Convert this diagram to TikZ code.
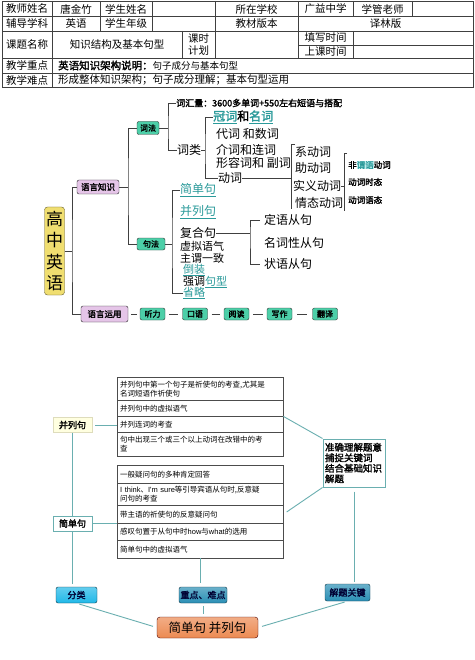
\documentclass[tikz,border=0pt]{standalone}
\usepackage{fontspec}
\setmainfont{Noto Sans CJK SC}[AutoFakeBold=2]
\newfontfamily\latin{Liberation Sans}

\definecolor{linkc}{HTML}{2A9A9A}
\definecolor{hlc}{HTML}{BFEFEF}
\definecolor{conc}{HTML}{6AAFB0}
\definecolor{rootc}{HTML}{F0DE70}
\definecolor{pinkc}{HTML}{E5C5E8}
\definecolor{mintc}{HTML}{4CCFA8}
\definecolor{bluec}{HTML}{20B8E8}
\definecolor{dbluec}{HTML}{2A8FB5}
\definecolor{orangec}{HTML}{EC8A52}
\definecolor{yelc}{HTML}{FFFFE0}

\newcommand{\lnk}[1]{\textcolor{linkc}{\underline{#1}}}
\newcommand{\hlt}[1]{{\fboxsep=0pt\colorbox{hlc}{\textcolor{linkc}{#1}}}}

\tikzset{
  grid/.style={draw=black!75, line width=0.5pt},
  cell/.style={font=\fontsize{10.5}{12}\selectfont},
  mline/.style={draw=black!75, line width=0.6pt},
  conn/.style={draw=conc, line width=0.9pt},
  rootbox/.style={draw=black!60!rootc, fill=rootc, rounded corners=3pt, minimum width=20pt, minimum height=88pt, align=center, font=\fontsize{17}{21.5}\selectfont},
  pinkbox/.style={draw=black!85, fill=pinkc, rounded corners=2pt, minimum height=14pt, font=\fontsize{8.5}{9}\selectfont\bfseries},
  mintbox/.style={draw=black!80, fill=mintc, rounded corners=2pt, minimum width=25pt, minimum height=12pt, font=\fontsize{8}{9}\selectfont\bfseries},
  item/.style={anchor=west, font=\fontsize{12}{12}\selectfont},
  subitem/.style={anchor=west, font=\fontsize{11}{11}\selectfont},
  note/.style={anchor=west, font=\fontsize{8.5}{9}\selectfont\bfseries},
  rowbox/.style={draw=black!70, anchor=north west, text width=160pt, inner xsep=3pt, align=left, font=\fontsize{7.5}{9}\selectfont},
  bluebox/.style={draw=black!70!bluec, top color=bluec!70, bottom color=bluec, rounded corners=2pt, minimum height=16pt, font=\fontsize{9}{9}\selectfont\bfseries, text=black!80!blue},
  dbluebox/.style={bluebox, draw=black!60!dbluec, top color=dbluec!70, bottom color=dbluec},
  bigbox/.style={draw=black!70!red, top color=orangec!70, bottom color=orangec, rounded corners=3pt, minimum width=101pt, minimum height=21pt, font=\fontsize{12.5}{13}\selectfont}
}

\begin{document}
\begin{tikzpicture}[x=1pt, y=-1pt, every node/.style={inner sep=0pt}]
  \path[fill=white] (0,0) rectangle (474,660);
  \useasboundingbox (0,0) rectangle (474,660);

  % header table
  \draw[grid] (2,1) rectangle (473,87);
  \draw[grid] (2,16) -- (473,16) (2,31) -- (473,31) (2,58) -- (473,58) (2,73) -- (473,73) (298,45) -- (473,45);
  \draw[grid] (52,1) -- (52,87) (100,1) -- (100,31) (152,1) -- (152,31) (182,31) -- (182,58)
    (215,1) -- (215,58) (298,1) -- (298,58) (353,1) -- (353,16) (353,31) -- (353,58) (412,1) -- (412,16);

  \node[cell] (jsxm) at (27,9) {教师姓名};
  \node[cell] (tjz) at (76,9) {唐金竹};
  \node[cell] (xsxm) at (126,9) {学生姓名};
  \node[cell] (szxx) at (256.5,9) {所在学校};
  \node[cell] (gyzx) at (325.5,9) {广益中学};
  \node[cell] (xgls) at (382.5,9) {学管老师};
  \node[cell] (fdxk) at (27,23.5) {辅导学科};
  \node[cell] (yy) at (76,23.5) {英语};
  \node[cell] (xsnj) at (126,23.5) {学生年级};
  \node[cell] (jcbb) at (256.5,23.5) {教材版本};
  \node[cell] (ylb) at (385.5,23.5) {译林版};
  \node[cell] (ktmc) at (27,44.5) {课题名称};
  \node[cell] (zsjg) at (117,44.5) {知识结构及基本句型};
  \node[cell, align=center] (ksjh) at (198.5,44.5) {课时\\计划};
  \node[cell] (txsj) at (325.5,38) {填写时间};
  \node[cell] (sksj) at (325.5,51.5) {上课时间};
  \node[cell] (jxzd) at (27,65.5) {教学重点};
  \node[cell, anchor=west] (zdnr) at (58,65.5) {\textbf{英语知识架构说明：}{\fontsize{9.5}{10}\selectfont 句子成分与基本句型}};
  \node[cell] (jxnd) at (27,80) {教学难点};
  \node[cell, anchor=west] (ndnr) at (58,80) {形成整体知识架构；句子成分理解；基本句型运用};

  % mind map
  \node[rootbox] (gzyy) at (54.5,251) {高\\中\\英\\语};
  \node[pinkbox, minimum width=42pt] (yyzs) at (98,187) {语言知识};
  \node[pinkbox, minimum width=47pt, minimum height=16pt] (yyyy) at (104.5,314) {语言运用};
  \coordinate (b0) at (72,251);
  \draw[mline] (gzyy) -- (b0);
  \draw[mline] (yyzs.west) -| (b0) |- (yyyy.west);

  \node[mintbox, minimum width=22pt, minimum height=13pt] (cifa) at (148,128) {词法};
  \node[mintbox, minimum width=28pt] (jufa) at (151,244) {句法};
  \coordinate (b1) at (128,187);
  \draw[mline] (yyzs) -- (b1);
  \draw[mline] (cifa.west) -| (b1) |- (jufa.west);

  \node[note, font=\fontsize{9}{9}\selectfont\bfseries] (cihui) at (176,103) {词汇量：3600多单词+550左右短语与搭配};
  \node[item] (cilei) at (177,150) {词类};
  \coordinate (b2) at (168,128);
  \draw[mline] (cifa) -- (b2);
  \draw[mline] (cihui.west) -| (b2) |- (cilei.west);

  \node[item, font=\fontsize{12}{12}\selectfont\bfseries] (gm) at (213,117) {\lnk{冠词}和\lnk{名词}};
  \node[item] (ds) at (216,134) {代词 和数词};
  \node[item] (jl) at (216,150) {介词和连词};
  \node[item] (xf) at (216,163) {形容词和 副词};
  \node[item] (dc) at (218,178) {动词};
  \coordinate (b3) at (205,150);
  \draw[mline] (cilei) -- (b3);
  \draw[mline] (gm.west) -| (b3) |- (dc.west);

  \node[item] (xdc) at (295,152) {系动词};
  \node[item] (zdc) at (295,168) {助动词};
  \node[item] (sy) at (293,186) {实义动词};
  \node[item] (qt) at (295,203) {情态动词};
  \coordinate (b4) at (291,178);
  \coordinate (b4t) at (291,144);
  \coordinate (b4b) at (291,209);
  \draw[mline] (dc) -- (b4);
  \draw[mline] ([xshift=4pt]b4t) -- (b4t) -- (b4b);

  \node[note] (fwy) at (348,165) {非\hlt{谓语}动词};
  \node[note] (dcst) at (348,182) {动词时态};
  \node[note] (dcyt) at (348,200) {动词语态};
  \coordinate (b5) at (344,186);
  \coordinate (b5t) at (344,153);
  \coordinate (b5b) at (344,211);
  \draw[mline] (sy) -- (b5);
  \draw[mline] ([xshift=3pt]b5t) -- (b5t) -- (b5b);

  \node[item] (jdj) at (180,190) {\lnk{简单句}};
  \node[item] (blj) at (180,212) {\lnk{并列句}};
  \node[item] (fhj) at (180,233) {复合句};
  \node[subitem] (xnyq) at (180,246) {虚拟语气};
  \node[subitem] (zwyz) at (180,258) {主谓一致};
  \node[subitem] (dz) at (183,270) {\lnk{倒装}};
  \node[subitem] (qd) at (183,282) {强调\lnk{句型}};
  \node[subitem] (sl) at (183,293) {\lnk{省略}};
  \coordinate (b6) at (172,244);
  \draw[mline] (jufa) -- (b6);
  \draw[mline] (jdj.west) -| (b6) |- (sl.west);

  \node[item] (dyc) at (264,220) {定语从句};
  \node[item] (mcx) at (264,243) {名词性从句};
  \node[item] (zyc) at (264,264) {状语从句};
  \coordinate (b7) at (250,233);
  \draw[mline] (fhj) -- (b7);
  \draw[mline] ([xshift=-4pt]dyc.west) -| (b7) |- ([xshift=-4pt]zyc.west);

  \node[mintbox] (tingli) at (152.5,314) {听力};
  \node[mintbox] (kouyu) at (195,314) {口语};
  \node[mintbox] (yuedu) at (236.5,314) {阅读};
  \node[mintbox] (xiezuo) at (279.5,314) {写作};
  \node[mintbox] (fanyi) at (325,314) {翻译};
  \draw[mline, shorten <=3pt, shorten >=3pt] (yyyy) -- (tingli);
  \draw[mline, shorten <=4pt, shorten >=4pt] (tingli) -- (kouyu);
  \draw[mline, shorten <=4pt, shorten >=4pt] (kouyu) -- (yuedu);
  \draw[mline, shorten <=4pt, shorten >=4pt] (yuedu) -- (xiezuo);
  \draw[mline, shorten <=5pt, shorten >=5pt] (xiezuo) -- (fanyi);

  % lower map
  \node[draw=yellow!50!black!30, fill=yelc, minimum width=39pt, minimum height=15pt, font=\fontsize{9}{9}\selectfont\bfseries] (bl) at (72.5,425) {并列句};
  \node[draw=conc, fill=white, minimum width=39pt, minimum height=15pt, font=\fontsize{9}{9}\selectfont\bfseries] (jd) at (72.5,523.5) {简单句};

  \node[rowbox, minimum height=23pt] (p1) at (117,377) {并列句中第一个句子是祈使句的考查,尤其是\\名词短语作祈使句};
  \node[rowbox, minimum height=16pt] (p2) at (117,400) {并列句中的虚拟语气};
  \node[rowbox, minimum height=16pt] (p3) at (117,416) {并列连词的考查};
  \node[rowbox, minimum height=24pt] (p4) at (117,432) {句中出现三个或三个以上动词在改错中的考\\查};

  \node[rowbox, minimum height=18pt] (q1) at (117,465) {一般疑问句的多种肯定回答};
  \node[rowbox, minimum height=22pt] (q2) at (117,483) {{\latin I think}、{\latin I\textquotesingle m sure}等引导宾语从句时,反意疑\\问句的考查};
  \node[rowbox, minimum height=18pt] (q3) at (117,505) {带主语的祈使句的反意疑问句};
  \node[rowbox, minimum height=17pt] (q4) at (117,523) {感叹句置于从句中时{\latin how}与{\latin what}的选用};
  \node[rowbox, minimum height=18pt] (q5) at (117,540) {简单句中的虚拟语气};

  \node[draw=conc, line width=1pt, fill=white, text width=58pt, inner xsep=2pt, minimum height=48pt, align=left, font=\fontsize{9.5}{10.5}\selectfont\bfseries] (jt) at (354,463) {准确理解题意\\捕捉关键词\\结合基础知识\\解题};

  \node[bluebox, minimum width=41pt] (fl) at (76.5,595) {分类};
  \node[dbluebox, minimum width=48pt] (zd) at (203,595) {重点、难点};
  \node[dbluebox, minimum width=45pt, minimum height=17pt] (gj) at (347.5,592.5) {解题关键};
  \node[bigbox] (big) at (207.5,627.5) {简单句\ 并列句};

  \draw[conn] (bl) -- (jd);
  \draw[conn, shorten >=3pt] (jd) -- (jd |- fl.north);
  \draw[conn, shorten <=3pt] (bl.east) -- (bl.east -| p3.west);
  \draw[conn] (jd.east) -- (jd.east -| q4.west);
  \draw[conn] (p2.south east) -- (jt.north west);
  \draw[conn, shorten <=4pt] (q3.east) -- (jt.south west);
  \draw[conn, shorten <=4pt, shorten >=2pt] (jt) -- (jt |- gj.north);
  \draw[conn, shorten >=4pt] (q5.south) -- (q5.south |- zd.north);
  \draw[conn, shorten <=3pt, shorten >=3pt] (zd) -- (zd |- big.north);
  \draw[conn, shorten <=3pt, shorten >=4pt] (fl.south) -- (big.west);
  \draw[conn, shorten <=3pt, shorten >=4pt] (gj.south) -- (big.east);
\end{tikzpicture}
\end{document}
